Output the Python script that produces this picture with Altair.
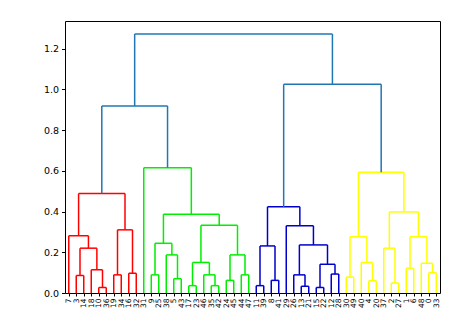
import altair as alt
import pandas as pd

# Leaf labels in dendrogram order and their colour group
leaf_labels = ["7", "3", "14", "18", "10", "36", "19", "34", "16", "32",
               "31", "9", "25", "38", "5", "43", "17", "23", "46", "35", "42", "24", "45", "44", "47",
               "11", "39", "8", "41", "29", "26", "13", "21", "15", "22", "12", "28",
               "30", "49", "40", "4", "20", "37", "2", "27", "1", "6", "48", "0", "33"]
leaf_groups = [1] * 10 + [2] * 15 + [3] * 12 + [4] * 13

# Linkage: node ids 0..49 are leaves (by position), 50+ are merges in order
merge_left = [1, 4, 3, 50, 0, 6, 8, 55, 54,
              11, 14, 13, 59, 16, 19, 18, 63, 21, 23, 67, 66, 62, 10,
              25, 27, 73, 31, 30, 33, 35, 78, 77, 29, 75,
              37, 40, 39, 84, 43, 42, 45, 48, 47, 90, 89, 87,
              58, 83, 96]
merge_right = [2, 5, 51, 52, 53, 7, 9, 56, 57,
               12, 15, 60, 61, 17, 20, 64, 65, 22, 24, 68, 69, 70, 71,
               26, 28, 74, 32, 76, 34, 36, 79, 80, 81, 82,
               38, 41, 85, 86, 44, 88, 46, 49, 91, 92, 93, 94,
               72, 95, 97]
merge_height = [0.086, 0.027, 0.114, 0.22, 0.281, 0.089, 0.097, 0.31, 0.488,
                0.089, 0.07, 0.187, 0.244, 0.036, 0.036, 0.089, 0.15, 0.062, 0.089, 0.187, 0.332, 0.387, 0.615,
                0.036, 0.062, 0.231, 0.033, 0.089, 0.027, 0.093, 0.141, 0.236, 0.33, 0.423,
                0.078, 0.06, 0.15, 0.276, 0.049, 0.22, 0.122, 0.1, 0.146, 0.276, 0.398, 0.593,
                0.918, 1.024, 1.271]

group_names = ["above", "c1", "c2", "c3", "c4"]
group_colors = ["#1f77b4", "#ff0000", "#00ee00", "#0000cc", "#ffff00"]

n = len(leaf_labels)
pos = [5 + 10 * i for i in range(n)]
hgt = [0.0] * n
grp = list(leaf_groups)
rows = []
for a, b, h in zip(merge_left, merge_right, merge_height):
    g = grp[a] if grp[a] == grp[b] else 0
    name = group_names[g]
    rows.append({"x": pos[a], "x2": pos[a], "y": hgt[a], "y2": h, "g": name})
    rows.append({"x": pos[a], "x2": pos[b], "y": h, "y2": h, "g": name})
    rows.append({"x": pos[b], "x2": pos[b], "y": hgt[b], "y2": h, "g": name})
    pos.append((pos[a] + pos[b]) / 2)
    hgt.append(h)
    grp.append(g)

df = pd.DataFrame(rows)

label_array = "[" + ",".join("'" + s + "'" for s in leaf_labels) + "]"
tick_vals = [5 + 10 * i for i in range(n)]

chart = alt.Chart(df).mark_rule(strokeWidth=1.5).encode(
    x=alt.X("x:Q", scale=alt.Scale(domain=[0, 10 * n], nice=False, zero=False),
            axis=alt.Axis(values=tick_vals, labelExpr=label_array + "[round((datum.value-5)/10)]",
                          labelAngle=270, labelAlign="right", labelBaseline="middle",
                          labelFontSize=7.5, labelOverlap=False, labelPadding=2,
                          grid=False, domain=False, tickSize=3, tickColor="black",
                          labelColor="black", title=None, labelFont="DejaVu Sans")),
    x2="x2:Q",
    y=alt.Y("y:Q", scale=alt.Scale(domain=[0, 1.335], nice=False),
            axis=alt.Axis(values=[0, 0.2, 0.4, 0.6, 0.8, 1.0, 1.2], format=".1f",
                          grid=False, domain=False, tickSize=3.5, tickColor="black",
                          labelColor="black", labelFontSize=9.5, labelPadding=3,
                          title=None, labelFont="DejaVu Sans")),
    y2="y2:Q",
    color=alt.Color("g:N", scale=alt.Scale(domain=group_names, range=group_colors), legend=None),
).properties(
    width=375, height=272,
    autosize=alt.AutoSizeParams(type="none"),
    padding={"left": 65, "top": 21, "right": 34, "bottom": 39},
).configure_view(stroke="black", strokeWidth=1)

chart.save("out.html", embed_options={"renderer": "svg", "actions": False})
